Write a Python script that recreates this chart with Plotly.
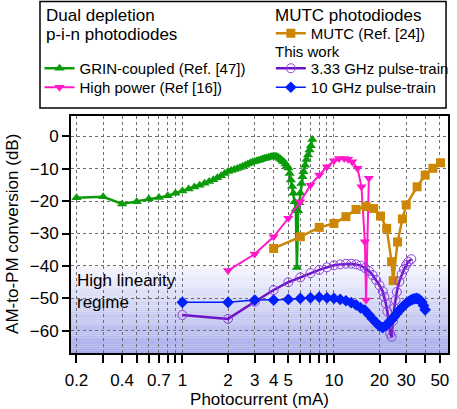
import math
import plotly.graph_objects as go

# ---------------- data ----------------
grin_x = [0.2, 0.3, 0.4, 0.5, 0.6, 0.7, 0.8, 0.9,
          1.0, 1.1, 1.2, 1.3, 1.4, 1.5, 1.6, 1.7, 1.8, 1.9,
          2.0, 2.1, 2.2, 2.3, 2.4, 2.5, 2.6, 2.7, 2.8, 2.9,
          3.0, 3.1, 3.2, 3.3, 3.4, 3.5, 3.6, 3.7, 3.8, 3.9,
          4.0, 4.1, 4.2, 4.3, 4.4, 4.5, 4.6, 4.7, 4.8, 4.9,
          5.0, 5.1, 5.2, 5.3, 5.4, 5.5, 5.6, 5.7, 5.8, 5.9,
          6.0, 6.1, 6.2, 6.3, 6.45, 6.6, 6.75, 6.9, 7.05, 7.2]
grin_y = [-19.0, -18.7, -20.9, -20.2, -19.4, -18.9, -18.4, -17.6,
          -16.9, -16.3, -15.7, -15.1, -14.5, -14.0, -13.4, -12.8, -12.2, -11.5,
          -10.9, -10.6, -10.3, -10.0, -9.7, -9.3, -9.0, -8.6, -8.3, -8.0,
          -7.8, -7.6, -7.4, -7.2, -7.0, -6.8, -6.7, -6.5, -6.4, -6.3,
          -6.2, -6.2, -6.3, -6.6, -6.9, -7.3, -7.7, -8.0, -8.6, -9.2,
          -9.8, -11.5, -13.5, -15.5, -17.6, -20.2, -22.5, -40.5, -23.0, -20.5,
          -17.5, -14.6, -12.5, -11.0, -9.0, -7.2, -5.8, -4.3, -3.0, -1.0]

hp_x = [2, 3, 4, 5, 6, 7, 8, 9, 10, 10.8, 11.7, 12.4, 13.2, 14.3, 15.2, 16.0, 16.3, 17.0]
hp_y = [-41.4, -36.3, -31.0, -25.3, -20.2, -15.1, -12.0, -9.4, -7.6, -6.9, -6.9,
        -7.1, -7.9, -9.9, -15.6, -32.5, -50.5, -13.0]

mutc_x = [4, 6, 8, 10, 12, 14, 16.3, 18.3, 20.3, 22.3, 24.0, 24.6, 26.3, 28.3,
          30, 35.4, 40, 45, 50.5]
mutc_y = [-34.6, -31.0, -28.1, -26.9, -24.8, -22.6, -21.7, -22.3, -24.6, -28.4,
          -38.7, -44.5, -32.6, -25.5, -21.2, -15.6, -12.0, -9.9, -8.2]

p333_x = [1.0, 2.0, 3.0, 4.0, 5.0, 6.0, 7.0, 8.0, 9.0, 10.0, 11.0, 12.0, 13.0,
          14.0, 15.0, 16.0, 17.0, 18.0, 19.0, 20.0, 21.0, 21.5, 22.0, 22.5,
          23.0, 23.5, 24.0, 24.5, 25.0, 25.5, 26.0, 27.0, 28.0, 29.0, 30.0,
          31.0, 32.4]
p333_y = [-55.1, -56.3, -51.0, -47.4, -45.0, -43.5, -42.2, -41.2, -40.4, -39.8,
          -39.5, -39.3, -39.3, -39.5, -39.9, -40.6, -41.5, -42.8, -44.3, -46.0,
          -47.8, -49.5, -51.5, -54.0, -57.5, -60.8, -61.8, -57.0, -53.0, -50.5,
          -48.0, -44.8, -42.6, -41.0, -39.7, -38.7, -37.9]

p10_x = [1.0, 2.0, 3.0, 4.0, 5.0, 6.0, 7.0, 8.0, 9.0, 10.0, 11.0, 12.0, 13.0,
         14.0, 15.0, 16.0, 17.0, 18.0, 19.0, 20.0, 21.0, 22.0, 23.0, 24.0,
         25.0, 26.0, 27.0, 28.0, 29.0, 30.0, 31.0, 32.0, 33.0, 34.0, 35.0,
         36.0, 37.0, 38.0, 39.0, 40.0]
p10_y = [-51.2, -51.2, -50.5, -50.5, -50.3, -50.0, -49.8, -49.6, -49.8, -50.0,
         -50.3, -50.7, -51.3, -52.0, -52.9, -53.6, -55.0, -56.3, -57.5, -58.5,
         -59.0, -58.4, -57.5, -56.6, -55.6, -54.6, -53.7, -52.9, -52.2, -51.5,
         -51.0, -50.6, -50.3, -50.1, -50.0, -50.1, -50.5, -51.1, -52.2, -53.5]

x_tickvals = [0.2, 0.3, 0.4, 0.5, 0.6, 0.7, 0.8, 0.9, 1, 2, 3, 4, 5, 6, 7, 8, 9,
              10, 20, 30, 40, 50]
x_ticktext = ["0.2", "", "0.4", "", "", "0.7", "", "", "1", "2", "3", "4", "5",
              "", "", "", "", "10", "20", "30", "", "50"]
y_tickvals = [0, -10, -20, -30, -40, -50, -60]

# ---------------- layout helpers ----------------
W, H = 457, 409
L, R, T, B = 71, 454, 116, 353
YMIN, YMAX = -66.8, 6.2
FONT = "Liberation Sans, Arial, sans-serif"


def px(xp):
    return (xp - L) / (R - L)


def py(yp):
    return (B - yp) / (B - T)


fig = go.Figure()

fig.add_trace(go.Scatter(
    x=grin_x, y=grin_y, mode="lines+markers", name="GRIN-coupled (Ref. [47])",
    line=dict(color="rgb(10,155,10)", width=2.5),
    marker=dict(symbol="triangle-up", size=9, color="rgb(10,155,10)"),
    legend="legend", showlegend=True))
fig.add_trace(go.Scatter(
    x=hp_x, y=hp_y, mode="lines+markers", name="High power (Ref [16])",
    line=dict(color="rgb(255,25,200)", width=2),
    marker=dict(symbol="triangle-down", size=9, color="rgb(255,25,200)"),
    legend="legend2", showlegend=True))
fig.add_trace(go.Scatter(
    x=mutc_x, y=mutc_y, mode="lines+markers", name="MUTC (Ref. [24])",
    line=dict(color="rgb(205,135,5)", width=2.5),
    marker=dict(symbol="square", size=9, color="rgb(205,135,5)"),
    legend="legend3", showlegend=True))
fig.add_trace(go.Scatter(
    x=p333_x, y=p333_y, mode="lines+markers", name="3.33 GHz pulse-train",
    line=dict(color="rgb(110,20,200)", width=2.5),
    marker=dict(symbol="circle-open", size=9, color="rgb(140,60,225)",
                line=dict(width=1)),
    legend="legend4", showlegend=True))
fig.add_trace(go.Scatter(
    x=p10_x, y=p10_y, mode="lines+markers", name="10 GHz pulse-train",
    line=dict(color="rgb(0,30,250)", width=1.5),
    marker=dict(symbol="diamond", size=9, color="rgb(0,30,250)"),
    legend="legend5", showlegend=True))

shapes = []
# gradient "high linearity" band
n = 40
top_c = (246, 246, 253)
bot_c = (166, 172, 234)
for i in range(n):
    y0 = -40 + (YMIN + 40) * i / n
    y1 = -40 + (YMIN + 40) * (i + 1) / n
    f = (i + 0.5) / n
    c = tuple(round(top_c[k] + (bot_c[k] - top_c[k]) * f) for k in range(3))
    shapes.append(dict(type="rect", xref="paper", yref="y", x0=0, x1=1,
                       y0=y0, y1=y1, layer="below", line=dict(width=0),
                       fillcolor="rgb(%d,%d,%d)" % c))
# legend frame
shapes.append(dict(type="rect", xref="paper", yref="paper",
                   x0=px(39.5), x1=px(452), y0=py(108), y1=py(1.5),
                   line=dict(color="black", width=1.5),
                   fillcolor="rgba(0,0,0,0)", layer="above"))

ann = []


def txt(s, xp, yp, size, angle=0, anchor="left"):
    ann.append(dict(text=s, xref="paper", yref="paper", x=px(xp), y=py(yp),
                    xanchor=anchor, yanchor="middle", showarrow=False,
                    textangle=angle,
                    font=dict(family=FONT, size=size, color="black")))


txt("Dual depletion", 44, 15, 17)
txt("p-i-n photodiodes", 44, 34, 17)
txt("MUTC photodiodes", 276, 15, 17)
txt("This work", 276, 52, 15)
txt("High linearity", 75, 280, 17)
txt("regime", 75, 302, 17)
txt("AM-to-PM conversion (dB)", 11, 234, 17, angle=-90, anchor="center")

leg_common = dict(bgcolor="rgba(0,0,0,0)", borderwidth=0,
                  font=dict(family=FONT, size=15, color="black"),
                  xanchor="left", yanchor="top", itemwidth=30,
                  tracegroupgap=0, visible=True)

fig.update_layout(
    width=W, height=H,
    margin=dict(l=L, r=W - R, t=T, b=H - B, pad=0),
    paper_bgcolor="white", plot_bgcolor="white",
    font=dict(family=FONT, size=17, color="black"),
    showlegend=True,
    shapes=shapes, annotations=ann,
    legend=dict(x=px(39), y=py(52), **leg_common),
    legend2=dict(x=px(39), y=py(71), **leg_common),
    legend3=dict(x=px(274), y=py(17), **leg_common),
    legend4=dict(x=px(274), y=py(52), **leg_common),
    legend5=dict(x=px(274), y=py(71), **leg_common),
    xaxis=dict(type="log", range=[math.log10(0.184), math.log10(56.6)],
               tickvals=x_tickvals, ticktext=x_ticktext,
               ticks="outside", ticklen=8, tickwidth=2, tickcolor="black",
               showline=True, linecolor="black", linewidth=2, mirror=True,
               showgrid=True, gridcolor="rgb(110,110,110)", griddash="dot",
               gridwidth=1, zeroline=False, ticklabelstandoff=3,
               tickfont=dict(family=FONT, size=17),
               title=dict(text="Photocurrent (mA)", standoff=4,
                          font=dict(family=FONT, size=17))),
    yaxis=dict(range=[YMIN, YMAX], tickvals=y_tickvals,
               ticks="outside", ticklen=7, tickwidth=2, tickcolor="black",
               showline=True, linecolor="black", linewidth=2, mirror=True,
               showgrid=True, gridcolor="rgb(110,110,110)", griddash="dot",
               gridwidth=1, zeroline=False,
               tickfont=dict(family=FONT, size=17)),
)

fig.write_html("out.html", config={"displayModeBar": False},
               post_script="document.body.style.margin='0px';")
